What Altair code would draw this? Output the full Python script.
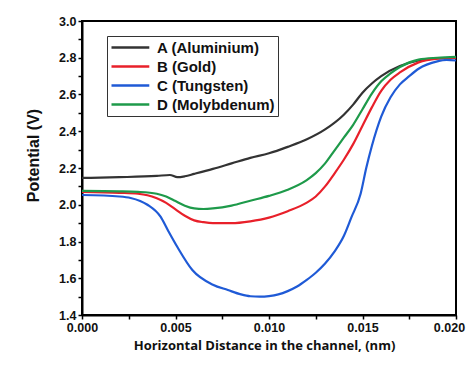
import json
import altair as alt
import pandas as pd

names = ["A (Aluminium)", "B (Gold)", "C (Tungsten)", "D (Molybdenum)"]
colors = ["#333333", "#e8202a", "#1f5ad6", "#1e9a4a"]

a_x = [0.000, 0.002, 0.004, 0.0047, 0.0051, 0.0055, 0.006, 0.007, 0.008, 0.009, 0.010,
       0.011, 0.012, 0.013, 0.014, 0.0145, 0.015, 0.0155, 0.016, 0.017, 0.018, 0.019, 0.020]
a_y = [2.146, 2.150, 2.157, 2.162, 2.150, 2.155, 2.168, 2.195, 2.225, 2.255, 2.280,
       2.315, 2.355, 2.410, 2.490, 2.545, 2.610, 2.660, 2.700, 2.755, 2.785, 2.797, 2.800]

b_x = [0.000, 0.002, 0.003, 0.0035, 0.004, 0.0045, 0.005, 0.0055, 0.006, 0.0065, 0.007,
       0.008, 0.009, 0.010, 0.011, 0.012, 0.0125, 0.013, 0.0135, 0.014, 0.0145, 0.015,
       0.0155, 0.016, 0.0165, 0.017, 0.018, 0.019, 0.020]
b_y = [2.070, 2.065, 2.060, 2.052, 2.035, 2.010, 1.975, 1.940, 1.915, 1.905, 1.900,
       1.900, 1.910, 1.930, 1.965, 2.010, 2.045, 2.100, 2.170, 2.245, 2.330, 2.430,
       2.530, 2.620, 2.680, 2.720, 2.775, 2.795, 2.800]

c_x = [0.000, 0.002, 0.0026, 0.0035, 0.0042, 0.0046, 0.0051, 0.0059, 0.007, 0.0078,
       0.0085, 0.009, 0.0095, 0.010, 0.0105, 0.011, 0.0115, 0.012, 0.0125, 0.013,
       0.0135, 0.014, 0.0144, 0.0149, 0.0152, 0.0155, 0.016, 0.0165, 0.017, 0.0175,
       0.018, 0.019, 0.0195, 0.020]
c_y = [2.053, 2.045, 2.037, 2.000, 1.935, 1.860, 1.770, 1.645, 1.565, 1.536,
       1.512, 1.502, 1.500, 1.503, 1.512, 1.530, 1.555, 1.590, 1.630, 1.680,
       1.745, 1.830, 1.930, 2.060, 2.200, 2.320, 2.480, 2.585, 2.655, 2.700,
       2.740, 2.780, 2.788, 2.785]

d_x = [0.000, 0.002, 0.003, 0.004, 0.0045, 0.005, 0.0055, 0.006, 0.0065, 0.007, 0.008,
       0.009, 0.010, 0.011, 0.012, 0.0125, 0.013, 0.0135, 0.014, 0.0145, 0.015, 0.0155,
       0.016, 0.0165, 0.017, 0.018, 0.019, 0.020]
d_y = [2.075, 2.073, 2.070, 2.060, 2.045, 2.020, 1.995, 1.980, 1.977, 1.980, 1.995,
       2.022, 2.048, 2.082, 2.133, 2.172, 2.225, 2.295, 2.365, 2.435, 2.520, 2.605,
       2.672, 2.715, 2.750, 2.790, 2.800, 2.805]

y_ticks = [1.4, 1.5, 1.6, 1.7, 1.8, 1.9, 2.0, 2.1, 2.2, 2.3, 2.4, 2.5, 2.6, 2.7, 2.8, 2.9, 3.0]
y_major = [1.4, 1.6, 1.8, 2.0, 2.2, 2.4, 2.6, 2.8, 3.0]
x_ticks = [0.0, 0.0025, 0.005, 0.0075, 0.01, 0.0125, 0.015, 0.0175, 0.02]
x_major = [0.0, 0.005, 0.01, 0.015, 0.02]

rows = []
for name, xs, ys in zip(names, [a_x, b_x, c_x, d_x], [a_y, b_y, c_y, d_y]):
    for i, (xv, yv) in enumerate(zip(xs, ys)):
        rows.append({"series": name, "x": xv, "y": yv, "order": i})
df = pd.DataFrame(rows)

font = "Liberation Sans"

chart = alt.Chart(df).mark_line(strokeWidth=2.2, interpolate="monotone").encode(
    x=alt.X("x:Q", scale=alt.Scale(domain=[0, 0.02], nice=False),
            axis=alt.Axis(values=x_ticks, title="Horizontal Distance in the channel, (nm)",
                          labelExpr="indexof(%s, datum.value) >= 0 ? format(datum.value, '.3f') : ''" % json.dumps(x_major),
                          labelFlush=False, titleX=182,
                          labelOffset=alt.condition("datum.value >= 0.02", alt.value(-7), alt.value(0)),
                          titleFont="Open Sans", titleFontSize=13, titlePadding=6)),
    y=alt.Y("y:Q", scale=alt.Scale(domain=[1.4, 3.0], nice=False, zero=False),
            axis=alt.Axis(values=y_ticks, title="Potential (V)",
                          labelExpr="indexof(%s, datum.value) >= 0 ? format(datum.value, '.1f') : ''" % json.dumps(y_major),
                          labelFlush=False, titleY=134,
                          titleFontSize=16, titlePadding=17)),
    color=alt.Color("series:N", sort=names,
                    scale=alt.Scale(domain=names, range=colors),
                    legend=alt.Legend(title=None, orient="none", legendX=25, legendY=15,
                                      symbolType="M-1,0H4.4", symbolSize=196, symbolStrokeWidth=2.5,
                                      symbolFillColor="transparent",
                                      labelFont=font, labelFontWeight="bold", labelFontSize=15,
                                      labelColor="#111111", labelOffset=30, rowPadding=2,
                                      padding=3, strokeColor="#333333", fillColor="white")),
    order="order:Q",
).properties(
    width=374, height=294,
    autosize=alt.AutoSizeParams(type="none"),
    padding={"left": 74, "top": 13, "right": 10, "bottom": 63},
).configure_view(
    stroke="black", strokeWidth=2
).configure_axis(
    grid=False, domainColor="black", domainWidth=2, tickColor="black", tickWidth=1.5,
    tickSize=4, labelFont=font, labelFontWeight="bold", labelFontSize=12.5, labelColor="#111111",
    labelPadding=2, titleFont=font, titleFontWeight="bold", titleColor="#111111"
)

chart.save("out.html", embed_options={"renderer": "svg", "actions": False})
